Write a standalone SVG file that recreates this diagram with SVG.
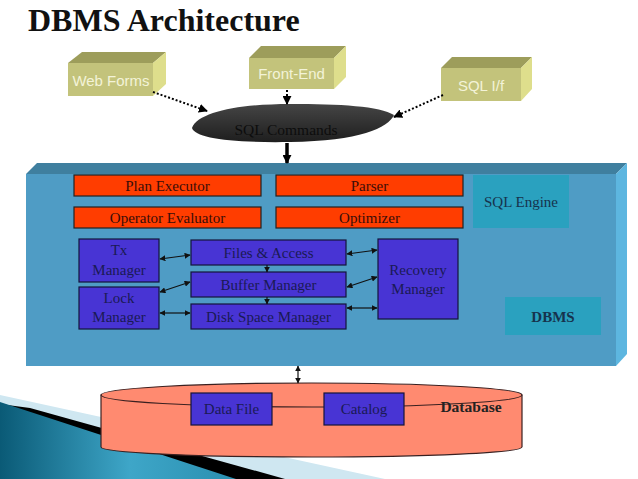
<svg xmlns="http://www.w3.org/2000/svg" width="638" height="479" viewBox="0 0 638 479">
<style>
.ttl{font-family:"Liberation Serif",serif;font-weight:bold;font-size:32px;fill:#111}
.cube{font-family:"Liberation Sans",Arial,sans-serif;font-size:15px;fill:#f3f3d8;text-anchor:middle}
.front{fill:#c3c37b}
.topf{fill:#9d9d5b}
.side{fill:#dede8c}
.red{fill:#ff3d00;stroke:#222;stroke-width:1.2}
.rt{font-family:"Liberation Serif",serif;font-size:15px;fill:#3a0d08;text-anchor:middle}
.pur{fill:#4834d4;stroke:#15153a;stroke-width:1.2}
.pt{font-family:"Liberation Serif",serif;font-size:15px;fill:#1a1a55;text-anchor:middle}
.lbl{fill:#2aa1bf}
.lt{font-family:"Liberation Serif",serif;font-size:15px;fill:#16334d;text-anchor:middle}
.dot{fill:none;stroke:#000;stroke-width:2;stroke-dasharray:2 2}
.dbl{fill:none;stroke:#111;stroke-width:1.2}
</style>
<defs>
<marker id="ah" viewBox="0 0 10 10" refX="9" refY="5" markerWidth="9" markerHeight="9" markerUnits="userSpaceOnUse" orient="auto-start-reverse">
<path d="M0,0 L10,5 L0,10 Z" fill="#000"/>
</marker>
<marker id="sh" viewBox="0 0 10 10" refX="9" refY="5" markerWidth="6" markerHeight="6" markerUnits="userSpaceOnUse" orient="auto-start-reverse">
<path d="M0,0 L10,5 L0,10 Z" fill="#111"/>
</marker>
<linearGradient id="wedge" x1="0" y1="0" x2="1" y2="0">
<stop offset="0" stop-color="#0a5a76"/>
<stop offset="0.55" stop-color="#3ea6c8"/>
<stop offset="1" stop-color="#2a8fb0"/>
</linearGradient>
<linearGradient id="oval" x1="0" y1="0" x2="0" y2="1">
<stop offset="0" stop-color="#454545"/>
<stop offset="1" stop-color="#1e1e1e"/>
</linearGradient>
</defs>
<rect width="638" height="479" fill="#fff"/>
<g id="decoration">
<polygon points="0,395 385,479 0,479" fill="#cfe7f1"/>
<polygon points="30,408 285,479 0,479 0,404" fill="#000"/>
<polygon points="0,402 236,479 0,479" fill="url(#wedge)"/>
</g>
<text class="ttl" x="28" y="31">DBMS Architecture</text>
<g id="web-forms">
<polygon class="topf" points="68,63 82,52 166,52 153,63"/>
<polygon class="side" points="153,63 166,52 166,84 153,96"/>
<rect class="front" x="68" y="63" width="85" height="33"/>
<text class="cube" x="111" y="86">Web Forms</text>
</g>
<g id="front-end">
<polygon class="topf" points="249,58 261,46 346,46 334,58"/>
<polygon class="side" points="334,58 346,46 346,77 334,89"/>
<rect class="front" x="249" y="58" width="85" height="31"/>
<text class="cube" x="291.5" y="79">Front-End</text>
</g>
<g id="sql-if">
<polygon class="topf" points="441,68 452,57 532,57 521,68"/>
<polygon class="side" points="521,68 532,57 532,89 521,101"/>
<rect class="front" x="441" y="68" width="80" height="33"/>
<text class="cube" x="481" y="91">SQL I/f</text>
</g>
<g id="sql-commands">
<path d="M192,128 C198,112 240,104 290,104 C340,104 380,106 394,115 C388,128 360,141 290,142 C230,143 195,138 192,128 Z" fill="url(#oval)"/>
<text x="286" y="135" font-family="Liberation Serif,serif" font-size="15.5" fill="#0d0d0d" text-anchor="middle">SQL Commands</text>
</g>
<g id="dbms">
<polygon points="26,174 37,163 627,163 616,174" fill="#3f7f9f"/>
<polygon points="616,174 627,163 627,354 616,366" fill="#5db6e0"/>
<rect x="26" y="174" width="590" height="192" fill="#4f9cc5"/>
<rect class="lbl" x="505" y="297" width="96" height="38"/>
<text class="lt" x="553" y="322" font-weight="bold">DBMS</text>
</g>
<g id="sql-engine">
<rect class="lbl" x="473" y="175" width="96" height="53"/>
<text class="lt" x="521" y="207">SQL Engine</text>
</g>
<g id="plan-executor">
<rect class="red" x="74" y="175" width="187" height="21"/>
<text class="rt" x="167.5" y="191">Plan Executor</text>
</g>
<g id="parser">
<rect class="red" x="276" y="175" width="187" height="21"/>
<text class="rt" x="369.5" y="191">Parser</text>
</g>
<g id="operator-evaluator">
<rect class="red" x="74" y="207" width="187" height="21"/>
<text class="rt" x="167.5" y="223">Operator Evaluator</text>
</g>
<g id="optimizer">
<rect class="red" x="276" y="207" width="187" height="21"/>
<text class="rt" x="369.5" y="223">Optimizer</text>
</g>
<g id="tx-manager">
<rect class="pur" x="79" y="239" width="80" height="43"/>
<text class="pt" x="119" y="255">Tx</text>
<text class="pt" x="119" y="275">Manager</text>
</g>
<g id="lock-manager">
<rect class="pur" x="79" y="287" width="80" height="42"/>
<text class="pt" x="119" y="303">Lock</text>
<text class="pt" x="119" y="322">Manager</text>
</g>
<g id="files-access">
<rect class="pur" x="191" y="240" width="155" height="25"/>
<text class="pt" x="268.5" y="258">Files &amp; Access</text>
</g>
<g id="buffer-manager">
<rect class="pur" x="191" y="272" width="155" height="25"/>
<text class="pt" x="268.5" y="290">Buffer Manager</text>
</g>
<g id="disk-space-manager">
<rect class="pur" x="191" y="304" width="155" height="25"/>
<text class="pt" x="268.5" y="322">Disk Space Manager</text>
</g>
<g id="recovery-manager">
<rect class="pur" x="378" y="239" width="80" height="80"/>
<text class="pt" x="418" y="275">Recovery</text>
<text class="pt" x="418" y="294">Manager</text>
</g>
<g id="database">
<path d="M101,395 V447 A210.5,10 0 0 0 522,447 V395 Z" fill="#ff8a70" stroke="#3a2020" stroke-width="1.2"/>
<ellipse cx="311.5" cy="395" rx="210.5" ry="12" fill="#ff8a70" stroke="#3a2020" stroke-width="1.2"/>
<text x="471" y="412" font-family="Liberation Serif,serif" font-size="15.5" font-weight="bold" fill="#222" text-anchor="middle">Database</text>
</g>
<g id="data-file">
<rect class="pur" x="191" y="393" width="81" height="32"/>
<text class="pt" x="231.5" y="414">Data File</text>
</g>
<g id="catalog">
<rect class="pur" x="324" y="393" width="80" height="32"/>
<text class="pt" x="364" y="414">Catalog</text>
</g>
<g id="connectors">
<line class="dot" x1="153" y1="92" x2="207" y2="111" marker-end="url(#ah)"/>
<line class="dot" x1="287" y1="90" x2="287" y2="104" marker-end="url(#ah)"/>
<line class="dot" x1="443" y1="95" x2="394" y2="117" marker-end="url(#ah)"/>
<line x1="287" y1="143" x2="287" y2="163" stroke="#000" stroke-width="3.5" marker-end="url(#ah)"/>
<line class="dbl" x1="160" y1="259" x2="190" y2="255" marker-start="url(#sh)" marker-end="url(#sh)"/>
<line class="dbl" x1="160" y1="292" x2="190" y2="282" marker-start="url(#sh)" marker-end="url(#sh)"/>
<line class="dbl" x1="160" y1="313" x2="190" y2="313" marker-start="url(#sh)" marker-end="url(#sh)"/>
<line class="dbl" x1="347" y1="254" x2="377" y2="250" marker-start="url(#sh)" marker-end="url(#sh)"/>
<line class="dbl" x1="347" y1="287" x2="377" y2="277" marker-start="url(#sh)" marker-end="url(#sh)"/>
<line class="dbl" x1="347" y1="308" x2="377" y2="308" marker-start="url(#sh)" marker-end="url(#sh)"/>
<line class="dbl" x1="267" y1="265" x2="267" y2="272" marker-end="url(#sh)"/>
<line class="dbl" x1="267" y1="297" x2="267" y2="304" marker-end="url(#sh)"/>
<line class="dbl" x1="298" y1="366" x2="298" y2="383" stroke-width="1.6" marker-start="url(#sh)" marker-end="url(#sh)"/>
</g>
</svg>
